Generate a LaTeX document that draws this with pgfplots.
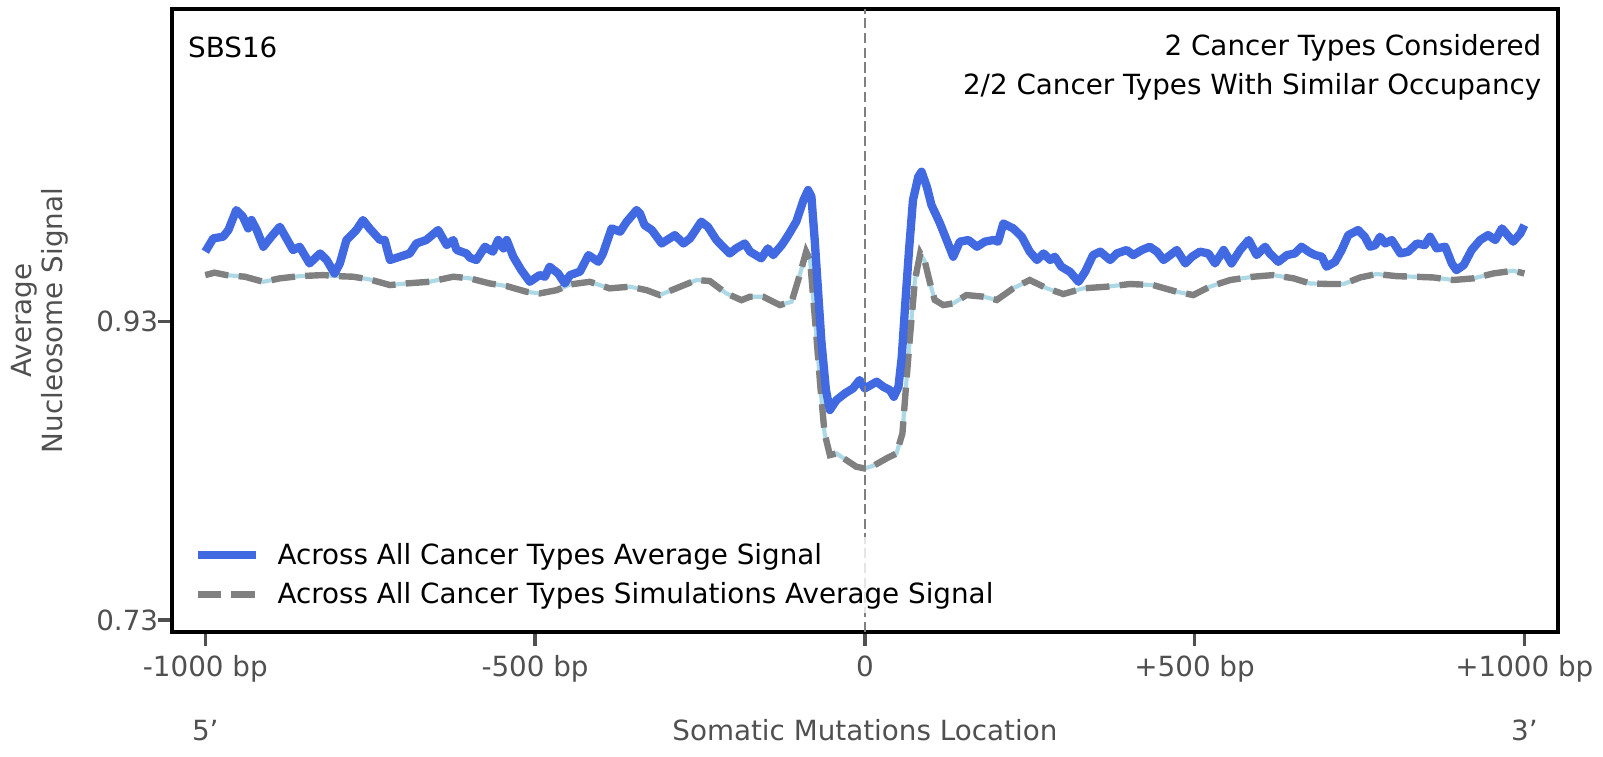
\documentclass[border=0pt]{standalone}
\usepackage{pgfplots}
\pgfplotsset{compat=1.18}
\usepackage{pgfplotstable}
\usepackage{fontspec}
\setmainfont{DejaVu Sans}
\usetikzlibrary{calc}

\definecolor{sigblue}{RGB}{65,105,225}
\definecolor{simgray}{RGB}{128,128,128}
\definecolor{simlight}{RGB}{173,216,230}
\definecolor{labgray}{RGB}{80,80,80}
\newcommand{\chartfont}{\fontsize{20}{23.5}\selectfont}

% Average nucleosome signal around the mutation (bp, signal)
\pgfplotstableread{
pos sig
-1000 0.9770
-988 0.9859
-973 0.9870
-965 0.9915
-953 1.0049
-943 1.0004
-935 0.9926
-930 0.9982
-922 0.9915
-912 0.9803
-900 0.9870
-887 0.9937
-877 0.9859
-867 0.9781
-857 0.9803
-842 0.9691
-826 0.9758
-816 0.9714
-804 0.9624
-796 0.9691
-786 0.9848
-771 0.9915
-761 0.9982
-751 0.9926
-735 0.9848
-728 0.9848
-720 0.9714
-705 0.9736
-690 0.9758
-680 0.9825
-665 0.9848
-647 0.9915
-634 0.9814
-624 0.9848
-619 0.9781
-604 0.9758
-599 0.9730
-589 0.9714
-576 0.9803
-564 0.9770
-556 0.9848
-548 0.9792
-543 0.9848
-533 0.9736
-521 0.9647
-508 0.9568
-493 0.9613
-485 0.9602
-478 0.9669
-465 0.9624
-455 0.9557
-447 0.9613
-432 0.9636
-419 0.9747
-404 0.9702
-397 0.9758
-384 0.9926
-371 0.9904
-361 0.9971
-346 1.0049
-341 1.0027
-334 0.9948
-323 0.9915
-308 0.9825
-296 0.9859
-288 0.9881
-275 0.9825
-265 0.9859
-248 0.9971
-238 0.9937
-225 0.9848
-215 0.9803
-205 0.9758
-195 0.9792
-182 0.9825
-174 0.9770
-157 0.9725
-147 0.9792
-139 0.9747
-126 0.9814
-116 0.9881
-104 0.9971
-93 1.0116
-86 1.0183
-81 1.0139
-76 0.9848
-71 0.9513
-66 0.9177
-59 0.8842
-53 0.8708
-43 0.8775
-30 0.8820
-18 0.8853
-8 0.8909
0 0.8853
18 0.8898
28 0.8864
38 0.8842
44 0.8797
51 0.8864
56 0.9065
61 0.9401
67 0.9781
73 1.0116
81 1.0272
86 1.0306
94 1.0205
101 1.0083
114 0.9959
124 0.9848
134 0.9736
144 0.9837
157 0.9848
170 0.9803
182 0.9837
195 0.9848
202 0.9837
210 0.9959
225 0.9926
238 0.9870
250 0.9770
261 0.9714
271 0.9758
281 0.9714
288 0.9736
298 0.9669
311 0.9635
324 0.9568
334 0.9635
346 0.9747
357 0.9770
372 0.9714
382 0.9758
397 0.9781
407 0.9747
420 0.9781
432 0.9803
443 0.9770
453 0.9714
463 0.9747
473 0.9781
486 0.9691
496 0.9736
508 0.9770
521 0.9758
531 0.9691
544 0.9781
556 0.9691
569 0.9781
582 0.9848
594 0.9747
607 0.9803
614 0.9758
627 0.9702
640 0.9747
652 0.9758
662 0.9803
675 0.9764
683 0.9747
693 0.9736
700 0.9669
713 0.9702
723 0.9781
733 0.9881
748 0.9915
758 0.9870
766 0.9803
774 0.9814
781 0.9870
789 0.9825
799 0.9848
812 0.9758
824 0.9770
837 0.9825
849 0.9814
857 0.9870
867 0.9792
880 0.9803
890 0.9691
897 0.9646
908 0.9680
920 0.9781
933 0.9848
945 0.9881
956 0.9848
966 0.9926
983 0.9837
994 0.9893
1000 0.9948
}\realtable

% Average signal of the simulated mutations
\pgfplotstableread{
pos sig
-1000 0.9613
-986 0.9629
-968 0.9613
-940 0.9602
-912 0.9568
-887 0.9591
-857 0.9606
-821 0.9613
-801 0.9606
-776 0.9602
-751 0.9584
-720 0.9546
-695 0.9557
-660 0.9568
-624 0.9602
-599 0.9591
-569 0.9557
-543 0.9539
-513 0.9501
-493 0.9490
-467 0.9512
-447 0.9550
-417 0.9568
-387 0.9524
-356 0.9535
-331 0.9512
-311 0.9479
-280 0.9535
-255 0.9580
-235 0.9573
-210 0.9490
-187 0.9445
-174 0.9468
-154 0.9468
-129 0.9412
-111 0.9434
-98 0.9624
-89 0.9770
-83 0.9714
-78 0.9446
-73 0.9177
-67 0.8842
-61 0.8551
-53 0.8406
-43 0.8417
-28 0.8372
-13 0.8328
0 0.8316
15 0.8339
33 0.8384
48 0.8417
57 0.8551
62 0.8842
68 0.9177
76 0.9580
84 0.9759
91 0.9703
99 0.9557
106 0.9446
119 0.9412
134 0.9423
154 0.9479
180 0.9468
200 0.9446
225 0.9524
250 0.9580
276 0.9524
301 0.9486
331 0.9524
367 0.9535
402 0.9553
437 0.9546
473 0.9501
498 0.9479
523 0.9535
554 0.9580
589 0.9602
619 0.9613
650 0.9591
675 0.9557
705 0.9553
726 0.9553
751 0.9597
776 0.9620
806 0.9606
832 0.9602
862 0.9597
892 0.9580
923 0.9591
953 0.9624
983 0.9642
1000 0.9624
}\simtable

\begin{document}
\begin{tikzpicture}
\begin{axis}[
  scale only axis,
  width=998.1pt, height=448.6pt,
  xmin=-1051, xmax=1051, ymin=0.7219, ymax=1.1397,
  axis line style={line width=2.9pt, black},
  tick align=outside, tick pos=left,
  major tick length=9.8pt,
  tick style={line width=2.5pt, color=labgray},
  xtick={-1000,-500,0,500,1000},
  xticklabels={-1000 bp,-500 bp,0,+500 bp,+1000 bp},
  ytick={0.73,0.93}, yticklabels={0.73,0.93},
  tick label style={font=\chartfont, text=labgray},
  xticklabel style={yshift=-3.6pt},
  yticklabel style={xshift=3.6pt},
  xlabel={Somatic Mutations Location},
  every axis x label/.style={at={(axis description cs:0.5,0)}, anchor=base,
    yshift=-77.8pt, font=\chartfont, text=labgray},
  ylabel={Average\\Nucleosome Signal},
  every axis y label/.style={at={(axis description cs:-0.0745,0.5)}, rotate=90,
    anchor=south, inner sep=0pt, align=center,
    font=\fontsize{20}{22.5}\selectfont, text=labgray},
  legend style={at={(axis description cs:0,0)}, anchor=south west,
    xshift=12.4pt, yshift=13.6pt, draw=none, fill=white, fill opacity=0.8,
    text opacity=1, font=\chartfont, row sep=5.5pt, /tikz/column sep=9.6pt,
    nodes={inner sep=3pt}},
  legend cell align=left,
  legend image code/.code={\draw[#1] (0pt,0pt) -- (42pt,0pt);},
  clip=false,
]
% simulated signal: light under-stroke and grey dashes
\addplot[forget plot, simlight, line width=3pt] table[x=pos, y=sig] {\simtable};
\addplot[forget plot, simgray, line width=4.6pt, dash pattern=on 17pt off 7.4pt]
  table[x=pos, y=sig] {\simtable};
% observed signal
\addplot[sigblue, line width=6pt, line join=round] table[x=pos, y=sig] {\realtable};
\addlegendentry{Across All Cancer Types Average Signal}
\addlegendimage{simgray, line width=4.6pt, dash pattern=on 17pt off 7.4pt}
\addlegendentry{Across All Cancer Types Simulations Average Signal}
% mutation position
\addplot[forget plot, simgray, line width=1.5pt, dash pattern=on 7.4pt off 3.2pt]
  coordinates {(0,0.7219) (0,1.1397)};

\node[anchor=base west, inner sep=0pt, font=\chartfont, xshift=11.7pt, yshift=-34.6pt]
  at (rel axis cs:0,1) {SBS16};
\node[anchor=base east, inner sep=0pt, font=\chartfont, xshift=-11.8pt, yshift=-33.8pt]
  at (rel axis cs:1,1) {2 Cancer Types Considered};
\node[anchor=base east, inner sep=0pt, font=\chartfont, xshift=-11.8pt, yshift=-61.9pt]
  at (rel axis cs:1,1) {2/2 Cancer Types With Similar Occupancy};
\node[anchor=base, font=\chartfont, text=labgray, yshift=-77.8pt]
  at (axis cs:-1000,0.7219) {5’};
\node[anchor=base, font=\chartfont, text=labgray, yshift=-77.8pt]
  at (axis cs:1000,0.7219) {3’};

\coordinate (bl) at (rel axis cs:0,0);
\coordinate (tr) at (rel axis cs:1,1);
\end{axis}
\pgfresetboundingbox
\path ($(bl)+(-123.6pt,-89.3pt)$) rectangle ($(tr)+(32.4pt,6.5pt)$);
\end{tikzpicture}
\end{document}
